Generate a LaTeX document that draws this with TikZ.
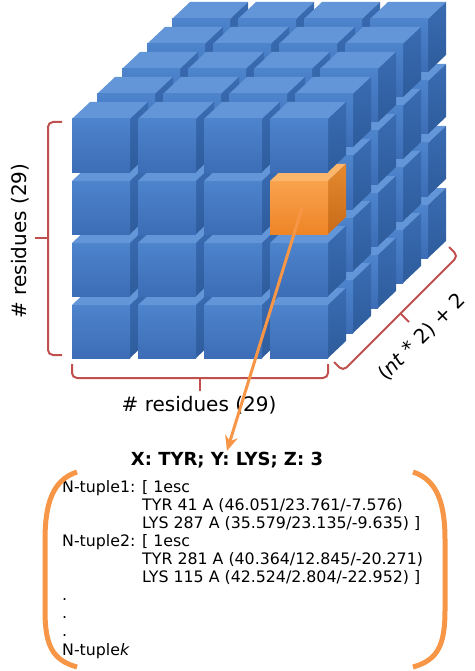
\documentclass[tikz,border=0pt]{standalone}
\usepackage{fontspec}
\setmainfont{DejaVu Sans}
\usetikzlibrary{positioning,arrows.meta,calc}

\definecolor{bfrontA}{HTML}{4D84CC}
\definecolor{bfrontB}{HTML}{3C6DB6}
\definecolor{btopC}{HTML}{6396D8}
\definecolor{bsideA}{HTML}{3A6CB3}
\definecolor{bsideB}{HTML}{2E5C9C}
\definecolor{ofrontA}{HTML}{FAA24E}
\definecolor{ofrontB}{HTML}{EE8526}
\definecolor{otopC}{HTML}{FBB66C}
\definecolor{osideA}{HTML}{E5892F}
\definecolor{osideB}{HTML}{C96B18}
\definecolor{bracered}{HTML}{C0504D}
\definecolor{accentorange}{HTML}{F79646}

% 一个立方体 (#1 = 颜色前缀)
\newcommand{\drawcube}[1]{%
  \fill[#1top] (0,0) -- (18,-17) -- (76,-17) -- (58,0) -- cycle;
  \shade[#1side] (58,0) -- (76,-17) -- (76,36) -- (58,53) -- cycle;
  \shade[#1front] (0,0) rectangle (58,53);
}

\begin{document}
\begin{tikzpicture}[
  x=1pt, y=-1pt,
  node distance=18.1pt,
  on grid,
  >={Stealth[length=15pt,width=13pt]}, % 箭头样式
  btop/.style={fill=btopC},
  bside/.style={top color=bsideA, bottom color=bsideB},
  bfront/.style={top color=bfrontA, bottom color=bfrontB},
  otop/.style={fill=otopC},
  oside/.style={top color=osideA, bottom color=osideB},
  ofront/.style={top color=ofrontA, bottom color=ofrontB},
  brace/.style={draw=bracered, line width=2pt, rounded corners=5pt},
  dimtext/.style={font=\fontsize{20}{24}\selectfont, inner sep=0pt},
  rowtext/.style={font=\fontsize{15.8}{18}\selectfont, inner sep=0pt, anchor=west,
    text height=11.5pt, text depth=3.2pt}
]
\useasboundingbox (0,0) rectangle (474,671);

% 立方体 (从后往前)
\foreach \l in {4,3,2,1,0}
  \foreach \r in {3,2,1,0}
    \foreach \c in {0,1,2,3}{
      \pgfmathtruncatemacro\hit{(\l==0)*(\r==1)*(\c==3)}
      \begin{scope}[shift={({72+66*\c+25*\l},{119+62*\r-25*\l})}]
        \ifnum\hit=1 \drawcube{o}\else \drawcube{b}\fi
      \end{scope}
    }

% 括号和标注
\draw[brace] (62,122) -- (48,122) -- (48,355) -- (62,355);
\draw[brace] (48,238) -- (35,238);
\node (ylabel) [dimtext, rotate=90] at (20,241) {\# residues (29)};

\draw[brace] (72,364) -- (72,378) -- (328,378) -- (328,364);
\draw[brace] (200,378) -- (200,391);
\node (xlabel) [dimtext] at (199,405) {\# residues (29)};

\draw[brace] (334,362) -- (343,371) -- (458,256) -- (449,247);
\draw[brace] (400.5,313.5) -- (409,322);
\node (zlabel) [dimtext, rotate=45] at (422,337) {(\textit{nt} * 2) + 2};

% 标题和箭头
\coordinate (pick) at (302,208);
\node (title) [font=\fontsize{18}{21}\selectfont\bfseries, inner sep=1pt] at (227,460) {X: TYR; Y: LYS; Z: 3};
\draw[->, draw=accentorange, line width=3pt] (pick) -- (title.north);

% N-tuple 列表
\node (n1) [rowtext] at (62,488) {N-tuple1: [ 1esc};
\node (n1a) [below right=18.1pt and 80pt of n1.west, rowtext] {TYR 41 A (46.051/23.761/-7.576)};
\node (n1b) [below=of n1a.west, rowtext] {LYS 287 A (35.579/23.135/-9.635) ]};
\node (n2) [below left=18.1pt and 80pt of n1b.west, rowtext] {N-tuple2: [ 1esc};
\node (n2a) [below right=18.1pt and 80pt of n2.west, rowtext] {TYR 281 A (40.364/12.845/-20.271)};
\node (n2b) [below=of n2a.west, rowtext] {LYS 115 A (42.524/2.804/-22.952) ]};
\node (dot1) [below left=18.1pt and 80pt of n2b.west, rowtext] {.};
\node (dot2) [below=of dot1.west, rowtext] {.};
\node (dot3) [below=of dot2.west, rowtext] {.};
\node (nk) [below=of dot3.west, rowtext] {N-tuple\textit{k}};

% 圆括号
\draw[accentorange, line width=5pt] (77,472) .. controls (52,480) and (45,505) .. (45,540)
  -- (45,610) .. controls (45,645) and (52,660) .. (77,667);
\draw[accentorange, line width=5pt] (413,472) .. controls (438,480) and (445,505) .. (445,540)
  -- (445,610) .. controls (445,645) and (438,660) .. (413,667);
\end{tikzpicture}
\end{document}
